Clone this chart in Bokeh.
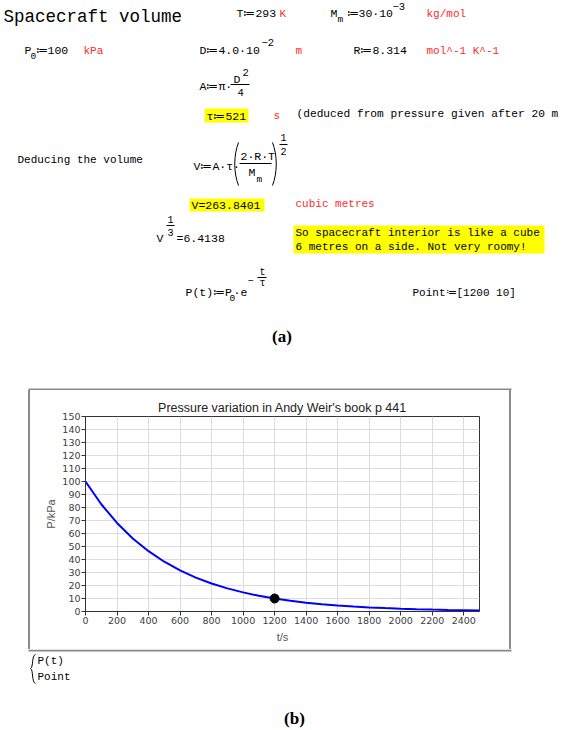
from bokeh.plotting import figure
from bokeh.layouts import row
from bokeh.models import Range1d, FixedTicker, Spacer
from bokeh.core.properties import value
from bokeh.embed import file_html
from bokeh.resources import INLINE

# ---------------- chart data ----------------
t_s = [0, 100, 200, 300, 400, 500, 600, 700, 800, 900, 1000, 1100, 1200,
       1300, 1400, 1500, 1600, 1700, 1800, 1900, 2000, 2100, 2200, 2300, 2400, 2500]
p_kpa = [100.0, 82.5, 68.1, 56.2, 46.4, 38.3, 31.6, 26.1, 21.5, 17.8, 14.7, 12.1, 10.0,
         8.25, 6.8, 5.6, 4.6, 3.8, 3.15, 2.6, 2.15, 1.78, 1.47, 1.21, 1.0, 0.82]
point_t = [1200]
point_p = [10]
x_ticks = list(range(0, 2401, 200))
y_ticks = list(range(0, 151, 10))

MONO = value("Liberation Mono")
RED = "#ff2a2a"
FRAME_GREY = "#8a8a8a"

# ---------------- (a) worksheet ----------------
fa = figure(width=563, height=390, x_range=Range1d(0, 563), y_range=Range1d(390, 0),
            output_backend="svg", toolbar_location=None, min_border=0,
            x_axis_type=None, y_axis_type=None)
fa.grid.visible = False
fa.outline_line_color = None


def txt(f, x, y, s, size="11.5px", color="black", font=MONO, align="left", style="normal"):
    f.text(x=[x], y=[y], text=[s], text_font=font, text_font_size=size,
           text_color=color, text_baseline="middle", text_align=align,
           text_font_style=style)


def hbar(f, x0, x1, y, color="black", width=1):
    f.segment(x0=[x0], y0=[y], x1=[x1], y1=[y], line_color=color, line_width=width)


# yellow highlights
fa.quad(left=[204, 189, 293], right=[248, 264, 544], top=[108, 198, 225],
        bottom=[122, 211, 253], fill_color="#ffff00", line_color=None)

txt(fa, 3, 16, "Spacecraft volume", size="17.5px")
txt(fa, 236, 13, "T≔293")
txt(fa, 279, 13, "K", size="11px", color=RED)
txt(fa, 330, 13, "M")
txt(fa, 337, 19, "m", size="9.5px")
txt(fa, 346, 13, "≔30·10")
txt(fa, 392, 6, "−3", size="10.5px")
txt(fa, 426, 13, "kg/mol", size="11px", color=RED)

txt(fa, 24, 50, "P")
txt(fa, 30, 55, "0", size="9.5px")
txt(fa, 35, 50, "≔100")
txt(fa, 83, 50, "kPa", size="11px", color=RED)
txt(fa, 199, 50, "D≔4.0·10")
txt(fa, 261, 42, "−2", size="10.5px")
txt(fa, 295, 50, "m", size="11px", color=RED)
txt(fa, 353, 50, "R≔8.314")
txt(fa, 426, 50, "mol^-1 K^-1", size="11px", color=RED)

txt(fa, 199, 86, "A≔π·")
txt(fa, 233, 79, "D")
txt(fa, 242, 72, "2", size="10.5px")
hbar(fa, 230, 249, 84)
txt(fa, 237, 92, "4", size="10.5px")

txt(fa, 206, 115.5, "τ≔521")
txt(fa, 273, 115.5, "s", size="11px", color=RED)
txt(fa, 296, 113, "(deduced from pressure given after 20 m", size="11.2px")

txt(fa, 17, 159, "Deducing the volume", size="11px")
txt(fa, 193, 166, "V≔A·τ·")
fa.bezier(x0=[238, 272], y0=[142, 142], x1=[238, 272], y1=[185, 185],
          cx0=[233, 277], cy0=[155, 155], cx1=[233, 277], cy1=[172, 172],
          line_color="black", line_width=1)
txt(fa, 240, 156, "2·R·T")
hbar(fa, 239, 271, 163)
txt(fa, 248, 172, "M")
txt(fa, 256, 179, "m", size="9.5px")
txt(fa, 280, 137, "1", size="10px")
hbar(fa, 279, 287, 144)
txt(fa, 280, 151, "2", size="10px")

txt(fa, 191, 204.5, "V=263.8401")
txt(fa, 295, 203, "cubic metres", size="11px", color=RED)

txt(fa, 156, 238, "V")
txt(fa, 167, 219, "1", size="10px")
hbar(fa, 166, 174, 225)
txt(fa, 167, 232, "3", size="10px")
txt(fa, 176, 238, "=6.4138")
txt(fa, 295, 232, "So spacecraft interior is like a cube", size="11px")
txt(fa, 295, 246, "6 metres on a side. Not very roomy!", size="11px")

txt(fa, 185, 292, "P(t)≔P")
txt(fa, 229, 297, "0", size="9.5px")
txt(fa, 233, 292, "·e")
txt(fa, 247, 280, "−", size="10px")
txt(fa, 259, 272, "t", size="10px")
hbar(fa, 257, 266, 277)
txt(fa, 259, 283, "τ", size="10px")
txt(fa, 412, 292, "Point≔[1200 10]", size="11px")

txt(fa, 281.5, 336, "(a)", size="17px", font=value("Liberation Serif"), align="center", style="bold")

# top edge of the chart's surrounding box
hbar(fa, 28, 511, 389, color=FRAME_GREY, width=2)

# ---------------- (b) chart ----------------
fb = figure(width=479, height=259, x_range=Range1d(0, 2500), y_range=Range1d(0, 150),
            output_backend="svg", toolbar_location=None,
            title="Pressure variation in Andy Weir's book p 441",
            min_border_left=55, min_border_right=30, min_border_top=26, min_border_bottom=38)
fb.title.align = "center"
fb.title.text_font = "Liberation Sans"
fb.title.text_font_size = "12.5px"
fb.title.text_font_style = "normal"
fb.title.text_color = "#222222"
fb.title.standoff = 4

fb.line(t_s, p_kpa, line_color="#0000ff", line_width=2)
fb.scatter(point_t, point_p, size=9, color="black")

fb.xaxis.ticker = FixedTicker(ticks=x_ticks)
fb.yaxis.ticker = FixedTicker(ticks=y_ticks)
fb.xaxis.axis_label = "t/s"
fb.yaxis.axis_label = "P/kPa"
for ax in (fb.xaxis, fb.yaxis):
    ax.axis_label_text_font = "Liberation Sans"
    ax.axis_label_text_font_size = "11px"
    ax.axis_label_text_font_style = "normal"
    ax.axis_label_text_color = "#555555"
    ax.major_label_text_font = "DejaVu Sans"
    ax.major_label_text_font_size = "9.5px"
    ax.major_label_text_color = "#404040"
    ax.axis_line_color = "#333333"
    ax.major_tick_line_color = "#333333"
    ax.major_tick_out = 4
    ax.major_tick_in = 0
    ax.minor_tick_out = 0
    ax.minor_tick_in = 0
    ax.major_label_standoff = 1
fb.xaxis.axis_label_standoff = 4
fb.yaxis.axis_label_standoff = 2
fb.grid.grid_line_color = "#dcdcdc"
fb.outline_line_color = "#333333"
fb.outline_line_alpha = 1

left_edge = Spacer(width=2, height=259, styles={"background-color": FRAME_GREY})
right_edge = Spacer(width=2, height=259, styles={"background-color": FRAME_GREY})
chart_row = row(Spacer(width=28, height=259), left_edge, fb, right_edge, spacing=0)

# ---------------- bottom legend text & caption ----------------
fc = figure(width=563, height=81, x_range=Range1d(0, 563), y_range=Range1d(730, 649),
            output_backend="svg", toolbar_location=None, min_border=0,
            x_axis_type=None, y_axis_type=None)
fc.grid.visible = False
fc.outline_line_color = None
hbar(fc, 28, 511, 650, color=FRAME_GREY, width=2)
fc.bezier(x0=[35, 30], y0=[654, 668], x1=[30, 35], y1=[668, 683],
          cx0=[31, 33], cy0=[655, 669], cx1=[33, 31], cy1=[667, 682],
          line_color="black", line_width=1)
txt(fc, 37, 660, "P(t)", size="11px")
txt(fc, 37, 676, "Point", size="11px")
txt(fc, 294, 718, "(b)", size="17px", font=value("Liberation Serif"), align="center", style="bold")

open("out.html", "w").write(file_html([fa, chart_row, fc], INLINE))
